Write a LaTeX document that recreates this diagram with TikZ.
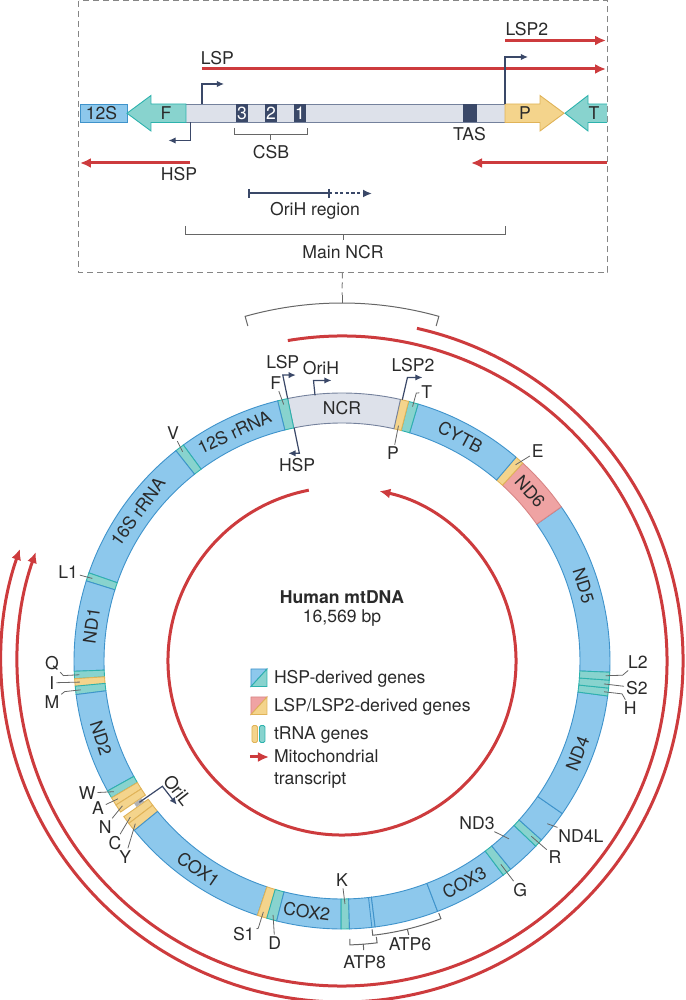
\documentclass[tikz,border=0pt]{standalone}
\usepackage{fontspec}
\setmainfont{TeX Gyre Heros}
\usetikzlibrary{arrows.meta,positioning,calc}
\definecolor{Ink}{HTML}{2A2A2A}
\definecolor{Sky}{HTML}{8DC8EC}
\definecolor{SkyLine}{HTML}{3F93CB}
\definecolor{Aqua}{HTML}{88D3CE}
\definecolor{AquaLine}{HTML}{2DB2AD}
\definecolor{Sand}{HTML}{F4D48C}
\definecolor{SandLine}{HTML}{E0B358}
\definecolor{Rose}{HTML}{EFA3A3}
\definecolor{RoseLine}{HTML}{D88585}
\definecolor{Mist}{HTML}{DDE1EA}
\definecolor{Slate}{HTML}{74819C}
\definecolor{Navy}{HTML}{3A4868}
\definecolor{Crimson}{HTML}{CD3B3D}
\definecolor{Muted}{HTML}{666666}
\newcommand\lbl{\fontsize{8.8}{10.5}\selectfont}
\tikzset{
  >=Latex,
  gene/.style={fill=Sky,draw=SkyLine,line width=.45pt},
  trna/.style={fill=Aqua,draw=AquaLine,line width=.45pt},
  ltrna/.style={fill=Sand,draw=SandLine,line width=.45pt},
  lgene/.style={fill=Rose,draw=RoseLine,line width=.45pt},
  ncr/.style={fill=Mist,draw=Slate,line width=.45pt},
  glab/.style={text=Ink,inner sep=0pt},
  lab/.style={text=Ink,inner sep=.8pt},
  leader/.style={draw=Muted,line width=.4pt},
  bracket/.style={draw=Muted,line width=.5pt},
  prom/.style={-{Latex[length=3.6pt,width=3.2pt]},draw=Navy,line width=.6pt},
  transcript/.style={-{Latex[length=5.5pt,width=5pt]},draw=Crimson,line width=1.5pt},
  frame/.style={draw=Muted!80,dash pattern=on 3pt off 2pt,line width=.5pt},
  csb/.style={fill=Navy,text=white,inner sep=0pt,minimum width=6pt,minimum height=9.25pt}
}
% annular piece: style, from, to, inner r, outer r
\newcommand\ringband[5]{\path[#1] (#2:#4) -- (#2:#5) arc[start angle=#2,end angle=#3,radius=#5] -- (#3:#4) arc[start angle=#3,end angle=#2,radius=#4] -- cycle;}
\newcommand\gseg[3]{\ringband{#1}{#2}{#3}{238}{268}}
\newcommand\seglab[4]{\node[glab,rotate=#3] (#1) at (#2:253) {#4};}
\newcommand\tlab[4]{\node[lab] (#1) at (#3) {#4}; \coordinate (#1-r) at (#2); \draw[leader] (#1-r) -- (#1);}

\begin{document}
\begin{tikzpicture}[x=0.5pt,y=0.5pt,font=\lbl]
\useasboundingbox (-342,-339) rectangle (343,661);

% top panel and key, in the pixel grid of the figure
\begin{scope}[shift={(-342,661)},y={(0,-0.5pt)}]
  \draw[frame] (79,1) rectangle (607.5,272.5);
  \coordinate (boxbot) at (342.5,272.5);
  % transcripts
  \coordinate (rlsp2a) at (505,40.5); \coordinate (rlsp2b) at (606,40.5);
  \coordinate (rlspa) at (202,69); \coordinate (rlspb) at (606,69);
  \coordinate (rhspa) at (190.5,163); \coordinate (rhspb) at (80,163);
  \coordinate (rhsp2a) at (607,163); \coordinate (rhsp2b) at (471,163);
  \draw[transcript] (rlsp2a) -- (rlsp2b);
  \draw[transcript] (rlspa) -- (rlspb);
  \draw[transcript] (rhspa) -- (rhspb);
  \draw[transcript] (rhsp2a) -- (rhsp2b);
  \node[lab,anchor=west] (llsp2) at (503.5,29.5) {LSP2};
  \node[lab,anchor=west] (llsp) at (199,58) {LSP};
  \node[lab] (lhsp) at (179,174.5) {HSP};
  % the region as a bar
  \path[fill=Mist] (186,104) rectangle (505,122.5);
  \draw[draw=Slate,line width=.45pt] (186,104) -- (505,104) (186,122.5) -- (505,122.5);
  \draw[gene] (80,104) rectangle (127,122.5);
  \draw[trna] (186,104) -- (151,104) -- (151,95.5) -- (127,113.25) -- (151,131) -- (151,122.5) -- (186,122.5) -- cycle;
  \draw[ltrna] (505,104) -- (540,104) -- (540,95.5) -- (564,113.25) -- (540,131) -- (540,122.5) -- (505,122.5) -- cycle;
  \draw[trna] (607,104) -- (588,104) -- (588,95.5) -- (565,113.25) -- (588,131) -- (588,122.5) -- (607,122.5);
  \node[glab] (t12S) at (101.5,113.25) {12S};
  \node[glab] (tF) at (166,113.25) {F};
  \node[glab] (tP) at (525,113.25) {P};
  \node[glab] (tT) at (594,113.25) {T};
  \node[csb] (csb3) at (242,113.25) {3};
  \node[csb] (csb2) at (271,113.25) {2};
  \node[csb] (csb1) at (300,113.25) {1};
  \node[csb,minimum width=7pt] (tas) at (470,113.25) {};
  \node[lab] (ltas) at (469.5,134) {TAS};
  \draw[bracket] (235,128) |- (307,135) -- (307,128);
  \draw[bracket] (271,135) -- (271,140.5);
  \node[lab] (lcsb) at (271,152.5) {CSB};
  % promoters
  \coordinate (plsp) at (202,104); \coordinate (plsp2) at (505,104); \coordinate (phsp) at (190.5,122.5);
  \draw[prom] (plsp) |- ++(22,-20);
  \draw[prom] (plsp2) |- ++(23,-47);
  \draw[prom] (phsp) |- ++(-22,18);
  % OriH region
  \coordinate (oria) at (249,193.5); \coordinate (orib) at (329,193.5); \coordinate (oric) at (372,193.5);
  \draw[Navy,line width=1pt] (oria) -- (orib);
  \draw[Navy,line width=.7pt] (249,189) -- (249,198) (329,189) -- (329,198);
  \draw[Navy,line width=1pt,dash pattern=on 1.6pt off 1.2pt,-{Latex[length=4.5pt,width=4pt]}] (orib) -- (oric);
  \node[lab,anchor=base] (lorih) at (315,216) {OriH region};
  \draw[bracket] (186,226) |- (505,235) -- (505,226);
  \draw[bracket] (343,235) -- (343,240.5);
  \node[lab] (lmain) at (343,252.5) {Main NCR};

  % centre text and key
  \node[text=Ink,font=\lbl\bfseries] (title) at (342,597) {Human mtDNA};
  \node[lab,anchor=base] (size) at (342,623) {16,569 bp};
  \path[gene] (251,669) -- (267,669) -- (251,686.5) -- cycle;
  \path[trna] (267,669) -- (267,686.5) -- (251,686.5) -- cycle;
  \node[lab,anchor=base west] (khsp) at (272,684) {HSP-derived genes};
  \path[lgene] (251,697) -- (267,697) -- (251,714.5) -- cycle;
  \path[ltrna] (267,697) -- (267,714.5) -- (251,714.5) -- cycle;
  \node[lab,anchor=base west] (klsp) at (272,712) {LSP/LSP2-derived genes};
  \draw[ltrna,rounded corners=.8pt] (252,725.5) rectangle (257.5,742.5);
  \draw[trna,rounded corners=.8pt] (259.5,725.5) rectangle (265,742.5);
  \node[lab,anchor=base west] (ktrna) at (272,740) {tRNA genes};
  \coordinate (kra) at (250,757); \coordinate (krb) at (269,757);
  \draw[transcript] (kra) -- (krb);
  \node[lab,anchor=base west] (ktr1) at (272,763) {Mitochondrial};
  \node[lab,anchor=base west] (ktr2) at (272,784) {transcript};
\end{scope}

% the genome ring, centred on the origin
\gseg{gene}{-2.4}{35.1}     % ND5
\gseg{lgene}{35.1}{47.6}    % ND6
\gseg{ltrna}{47.6}{49.5}    % E
\gseg{gene}{49.5}{73.5}     % CYTB
\gseg{trna}{73.5}{75.6}     % T
\gseg{ltrna}{75.6}{77.4}    % P
\gseg{ncr}{77.4}{101.7}     % NCR
\gseg{trna}{101.7}{103.9}   % F
\gseg{gene}{103.9}{126.3}   % 12S
\gseg{trna}{126.3}{128.3}   % V
\gseg{gene}{128.3}{160.8}   % 16S
\gseg{trna}{160.8}{162.6}   % L1
\gseg{gene}{162.6}{182.2}   % ND1
\gseg{trna}{182.2}{183.8}   % Q
\gseg{ltrna}{183.8}{185.4}  % I
\gseg{trna}{185.4}{187.2}   % M
\gseg{gene}{187.2}{209}     % ND2
\gseg{trna}{209}{210.7}     % W
\gseg{ltrna}{210.7}{212.5}  % A
\gseg{ltrna}{212.5}{214.3}  % N
\gseg{ltrna}{215.5}{217.3}  % C
\gseg{ltrna}{217.3}{219.2}  % Y
\gseg{gene}{219.2}{251.6}   % COX1
\gseg{ltrna}{251.6}{253.7}  % S1
\gseg{trna}{253.7}{255.9}   % D
\gseg{gene}{255.9}{269.8}   % COX2
\gseg{trna}{269.8}{271.6}   % K
\gseg{gene}{271.6}{277.1}   % ATP8
\gseg{gene}{277.1}{290.9}   % ATP6
\gseg{gene}{290.9}{307}     % COX3
\gseg{trna}{307}{309}       % G
\gseg{gene}{309}{316.3}     % ND3
\gseg{trna}{316.3}{318.1}   % R
\gseg{gene}{318.1}{325.3}   % ND4L
\gseg{gene}{325.3}{352.5}   % ND4
\gseg{trna}{352.5}{354.2}   % H
\gseg{trna}{354.2}{355.9}   % S2
\gseg{trna}{355.9}{357.6}   % L2
\draw[draw=SkyLine,line width=.45pt] (276.4:238) -- (276.4:268);
\ringband{fill=Muted!50}{214.4}{215.4}{243}{252}

\seglab{gNCR}{90}{0}{NCR}
\seglab{g12S}{115.2}{25.2}{12S rRNA}
\seglab{g16S}{143.8}{53.8}{16S rRNA}
\seglab{gND1}{172}{82}{ND1}
\seglab{gND2}{197.8}{287.8}{ND2}
\seglab{gCOX1}{235.4}{325.4}{COX1}
\seglab{gCOX2}{262}{352}{COX2}
\seglab{gCOX3}{298.9}{28.9}{COX3}
\seglab{gND4}{338.6}{68.6}{ND4}
\seglab{gND5}{17.3}{-72.7}{ND5}
\seglab{gND6}{42}{-48}{ND6}
\seglab{gCYTB}{62.1}{-27.9}{CYTB}

% transcripts
\draw[transcript] (101:174) arc[start angle=101,end angle=437.6,radius=174];
\draw[transcript] (99.6:325) arc[start angle=99.6,end angle=-199.6,radius=325];
\draw[transcript] (77.3:341) arc[start angle=77.3,end angle=-199.2,radius=341];

% bracket linking the panel
\draw[bracket] (105.7:348) -- (105.7:358) arc[start angle=105.7,end angle=74.3,radius=358] -- (74.3:348);
\coordinate (brmid) at (90:358); \coordinate (brtop) at (90:366);
\draw[bracket] (brmid) -- (brtop);
\draw[frame] (boxbot) -- (brtop);

% ATP brackets
\draw[bracket] (276.4:270) -- (276.4:276) arc[start angle=276.4,end angle=291,radius=276] -- (291:270);
\draw[bracket] (283.7:276) -- (283.7:282);
\node[lab] (lATP6) at (283.5:291) {ATP6};
\draw[bracket] (271.6:278) -- (271.6:284) arc[start angle=271.6,end angle=277.1,radius=284] -- (277.1:278);
\draw[bracket] (274.3:284) -- (274.3:290);
\node[lab] (lATP8) at (274.3:302) {ATP8};

% promoters and origins on the ring
\coordinate (cLSP) at (101.7:268); \coordinate (cOriH) at (95.8:267);
\coordinate (cLSP2) at (77:268); \coordinate (cHSP) at (101.6:238);
\coordinate (cOriL) at (214.9:247);
\draw[prom] (cLSP) -- (101.7:292) -- ++(13,0);
\draw[prom] (cOriH) -- (95.8:282) -- ++(18,0);
\draw[prom] (cLSP2) -- (77:291) -- ++(15,0);
\draw[prom] (cHSP) -- (101.6:212) -- ++(-11,0);
\draw[prom] (cOriL) -- (214.9:219) -- (221:219);
\node[lab] (nLSP) at (101.2:305) {LSP};
\node[lab] (nOriH) at (94.1:294) {OriH};
\node[lab] (nLSP2) at (76.5:304) {LSP2};
\node[lab] (nHSP) at (102.9:201) {HSP};
\node[lab,rotate=-52] (nOriL) at (218.2:209) {OriL};

% tRNA names
\tlab{F}{102.8:263}{103.4:286}{F}
\tlab{V}{127.3:263}{126.5:284}{V}
\tlab{L1}{161.7:263}{162:288}{L1}
\tlab{I}{184.6:263}{184.3:291}{I}
\tlab{W}{209.8:263}{207.4:287}{W}
\tlab{A}{211.6:263}{211.1:285}{A}
\tlab{N}{213.4:263}{215:289}{N}
\tlab{C}{216.4:263}{218.7:291}{C}
\tlab{Y}{218.2:263}{222.1:292}{Y}
\tlab{D}{254.8:263}{256.6:290}{D}
\tlab{K}{270.7:243}{270:219}{K}
\tlab{ND3}{313.2:244}{309.8:211}{ND3}
\tlab{G}{308:258}{307.9:290}{G}
\tlab{R}{317.2:258}{317.4:289.5}{R}
\tlab{ND4L}{321.6:262}{323.8:296}{ND4L}
\tlab{S2}{355:263}{354.8:296}{S2}
\tlab{E}{48.5:262}{47:287}{E}
\tlab{P}{76.5:242}{76.2:214}{P}
% bent leaders
\node[lab] (Q) at (180.4:290) {Q};
\draw[leader] (183:263) -- (183:279) -- (Q);
\node[lab] (M) at (188:293) {M};
\draw[leader] (186.3:263) -- (186.3:279) -- (M);
\node[lab] (S1) at (250.2:290) {S1};
\draw[leader] (252.6:263) -- (252.6:280) -- (S1);
\node[lab] (T) at (72.5:282) {T};
\draw[leader] (74.5:264) -- (74.5:278) -- (T);
\node[lab] (L2) at (359.8:296) {L2};
\draw[leader] (356.8:264) -- (357.1:281) -- (L2);
\node[lab] (H) at (350.7:292) {H};
\draw[leader] (353.3:264) -- (353.3:282) -- (H);
\end{tikzpicture}
\end{document}
